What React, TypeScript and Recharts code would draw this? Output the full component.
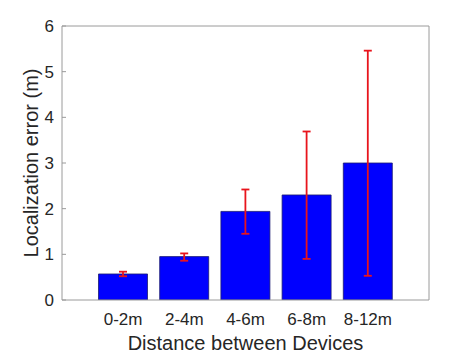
import React from "react";
import {
  BarChart,
  Bar,
  XAxis,
  YAxis,
  ErrorBar,
} from "recharts";

const categories = ["0-2m", "2-4m", "4-6m", "6-8m", "8-12m"];
const meanError = [0.57, 0.95, 1.94, 2.3, 3.0];
const lowerBound = [0.52, 0.86, 1.45, 0.9, 0.53];
const upperBound = [0.62, 1.02, 2.42, 3.69, 5.46];
const yTicks = [0, 1, 2, 3, 4, 5, 6];

const data = categories.map((name, i) => ({
  name,
  value: meanError[i],
  err: [meanError[i] - lowerBound[i], upperBound[i] - meanError[i]],
}));

const axisColor = "#9a9a9a";
const textColor = "#262626";
const font = "'Liberation Sans', Arial, sans-serif";

export default function App() {
  return (
    <div style={{ width: 474, height: 355, background: "#fff" }}>
      <style>{`body { margin: 0; }`}</style>
      <BarChart
        width={474}
        height={355}
        data={data}
        margin={{ top: 25, right: 44, bottom: 0, left: 0 }}
        style={{ fontFamily: font }}
      >
        <XAxis
          dataKey="name"
          height={55}
          padding={{ left: 30.5, right: 30.5 }}
          stroke={axisColor}
          tickLine={false}
          tickMargin={17}
          tickSize={-4}
          tick={{ fill: textColor, fontSize: 17 }}
          label={{
            value: "Distance between Devices",
            position: "insideBottom",
            offset: 5,
            fill: textColor,
            fontSize: 20,
          }}
        />
        <XAxis
          xAxisId="top"
          dataKey="name"
          orientation="top"
          height={1}
          padding={{ left: 30.5, right: 30.5 }}
          stroke={axisColor}
          tickSize={-4}
          tick={false}
        />
        <YAxis
          width={62}
          domain={[0, 6]}
          ticks={yTicks}
          allowDataOverflow
          stroke={axisColor}
          tickSize={-4}
          tickMargin={12}
          tick={{ fill: textColor, fontSize: 17 }}
          label={{
            value: "Localization error (m)",
            angle: -90,
            position: "insideLeft",
            offset: 31,
            textAnchor: "middle",
            fill: textColor,
            fontSize: 20,
          }}
        />
        <YAxis
          yAxisId="right"
          orientation="right"
          width={1}
          domain={[0, 6]}
          ticks={yTicks}
          stroke={axisColor}
          tickSize={-4}
          tick={false}
        />
        <Bar
          dataKey="value"
          fill="#0000ff"
          stroke="#1c1c70"
          strokeWidth={0.8}
          barSize={49}
          isAnimationActive={false}
        >
          <ErrorBar
            dataKey="err"
            direction="y"
            width={4}
            stroke="#e8141c"
            strokeWidth={1.8}
            isAnimationActive={false}
          />
        </Bar>
      </BarChart>
    </div>
  );
}
